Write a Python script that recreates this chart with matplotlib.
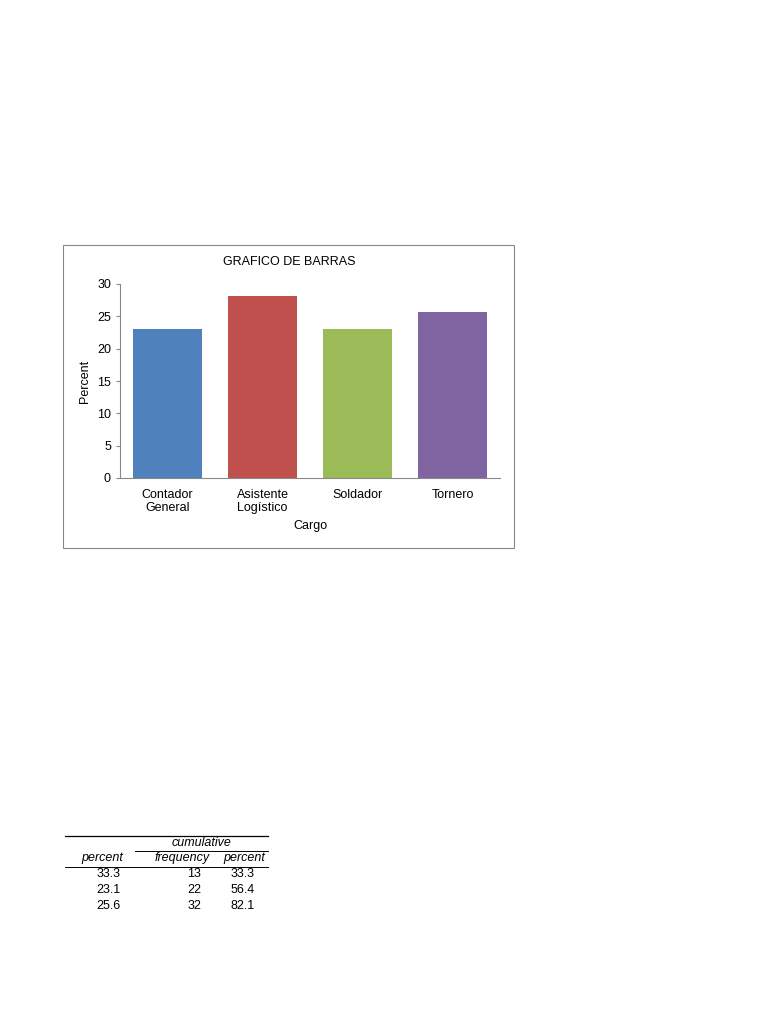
import matplotlib.pyplot as plt
from matplotlib.patches import Rectangle
from matplotlib.lines import Line2D

cargos = ['Contador\nGeneral', 'Asistente\nLogístico', 'Soldador', 'Tornero']
percents = [23.1, 28.2, 23.1, 25.6]
colors = ['#4f81bd', '#c0504d', '#9bbb59', '#8064a2']

tab_percent = ['33.3', '23.1', '25.6']
tab_freq = ['13', '22', '32']
tab_cum = ['33.3', '56.4', '82.1']

W, H = 768, 1024
fig = plt.figure(figsize=(W / 100, H / 100), dpi=100)
plt.rcParams['font.family'] = ['Liberation Sans', 'DejaVu Sans']

def fx(x):
    return x / W

def fy(y):
    return 1 - y / H

# chart frame
fig.patches.append(Rectangle((fx(63), fy(548)), fx(514) - fx(63), fy(245) - fy(548),
                             transform=fig.transFigure, fill=False, ec='#888888', lw=0.8))

ax = fig.add_axes([fx(120), fy(478), fx(500) - fx(120), fy(284) - fy(478)])
ax.bar(range(len(cargos)), percents, width=0.72, color=colors)
ax.set_xlim(-0.5, 3.5)
ax.set_ylim(0, 30)
ax.set_yticks(range(0, 31, 5))
ax.set_xticks(range(len(cargos)))
ax.set_xticklabels(cargos, fontsize=9, linespacing=1.1)
ax.tick_params(axis='y', labelsize=9, length=3, color='#888888')
ax.tick_params(axis='x', length=0, pad=8)
for s in ['top', 'right']:
    ax.spines[s].set_visible(False)
for s in ['left', 'bottom']:
    ax.spines[s].set_color('#888888')
ax.set_ylabel('Percent', fontsize=9, labelpad=4)
ax.set_xlabel('Cargo', fontsize=9, labelpad=4)
fig.text(fx(289), fy(262), 'GRAFICO DE BARRAS', ha='center', va='center', fontsize=9)

# table
def hline(x0, x1, y, lw=0.9):
    fig.add_artist(Line2D([fx(x0), fx(x1)], [fy(y), fy(y)], color='black', lw=lw))

hline(65, 268, 836)
hline(135, 268, 851, 0.7)
hline(65, 268, 867, 0.7)
fig.text(fx(202), fy(843), 'cumulative', ha='center', va='center', fontsize=9, style='italic')
for x, t in [(123, 'percent'), (210, 'frequency'), (265, 'percent')]:
    fig.text(fx(x), fy(858), t, ha='right', va='center', fontsize=9, style='italic')
for i in range(len(tab_percent)):
    y = 874 + 16 * i
    fig.text(fx(121), fy(y), tab_percent[i], ha='right', va='center', fontsize=9)
    fig.text(fx(201), fy(y), tab_freq[i], ha='right', va='center', fontsize=9)
    fig.text(fx(255), fy(y), tab_cum[i], ha='right', va='center', fontsize=9)

fig.savefig('out.png', dpi=100)
